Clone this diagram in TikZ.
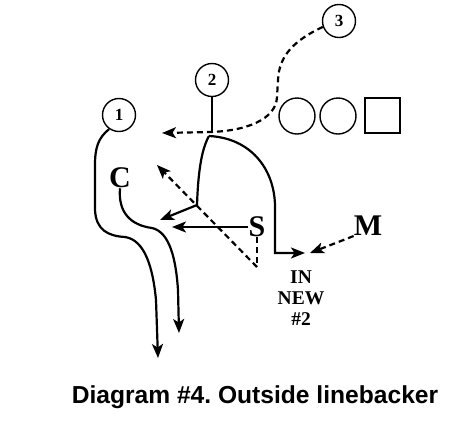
\documentclass[tikz,border=0pt]{standalone}
\usepackage{fontspec}
\setmainfont{Liberation Serif}
\newfontfamily\capfont{Liberation Sans}
\usetikzlibrary{arrows.meta}
\tikzset{
  player/.style={circle, draw, line width=1.4pt, minimum size=33pt, inner sep=0pt, font=\fontsize{17}{17}\selectfont\bfseries},
  lineman/.style={circle, draw, line width=1.4pt, minimum size=36pt, inner sep=0pt},
  centerbox/.style={rectangle, draw, line width=1.4pt, minimum width=35pt, minimum height=35pt, inner sep=0pt},
  letter/.style={font=\fontsize{30}{30}\selectfont\bfseries, inner sep=0pt},
  route/.style={line width=2.2pt},
  dashroute/.style={line width=2.2pt, dash pattern=on 6pt off 4pt},
  tip/.style={-{Stealth[length=14pt,width=11pt,inset=3.5pt]}}
}
\begin{document}
\frenchspacing
\begin{tikzpicture}[x=1pt,y=-1pt]
\useasboundingbox (0,0) rectangle (472,424);
% players
\node[player] (c1) at (119,115) {1};
\node[player] (c2) at (212,80) {2};
\node[player] (c3) at (339,21) {3};
\node[lineman] (o1) at (297,116) {};
\node[lineman] (o2) at (338,116) {};
\node[centerbox] (sq) at (382.5,115.5) {};
\node[letter] (C) at (120,178) {C};
\node[letter] (S) at (257,227) {S};
\node[letter] (M) at (368,226) {M};
\node[font=\fontsize{19.5}{21}\selectfont\bfseries, align=center, inner sep=0pt, anchor=north] (txt) at (301,271) {IN\\NEW\\\#2};
\node[font=\capfont\fontsize{24.6}{26}\selectfont\bfseries, anchor=base, inner sep=0pt] (cap) at (255,403) {Diagram \#4. Outside linebacker};
% coordinates
\coordinate (j2) at (209,136);
\coordinate (v) at (197,205);
\coordinate (d1) at (257,267);
\coordinate (t3) at (162,133);
\coordinate (tS) at (172,227);
\coordinate (tv) at (160,220);
\coordinate (tr) at (305,253);
\coordinate (tM) at (310,253);
\coordinate (td) at (157,165);
\coordinate (t1) at (158,358);
\coordinate (tC) at (179,333);
% routes
\draw[route] (c2.south) -- (212,133);
\draw[route, tip] (j2) .. controls (250,138) and (274,168) .. (275,205) -- (275,253) -- (tr);
\draw[route, tip] (j2) .. controls (201,150) and (198,175) .. (v) -- (tv);
\draw[dashroute, tip] (c3.200) .. controls (295,40) and (279,55) .. (278,80) -- (277,97) .. controls (276,120) and (245,131) .. (210,132) -- (t3);
\draw[dashroute, tip] (d1) -- (td);
\draw[dashroute] (S.south) -- (d1);
\draw[route, tip] (S.west) -- (tS);
\draw[dashroute, tip] (M.south west) -- (tM);
\draw[route, tip] (c1.235) .. controls (98,138) and (95,148) .. (95,165) -- (95,210) .. controls (96,230) and (108,236) .. (125,237) .. controls (145,240) and (153,268) .. (156,300) -- (t1);
\draw[route, tip] (C.south) .. controls (118,212) and (130,225) .. (152,228) .. controls (170,232) and (176,260) .. (178,290) -- (tC);
\end{tikzpicture}
\end{document}
